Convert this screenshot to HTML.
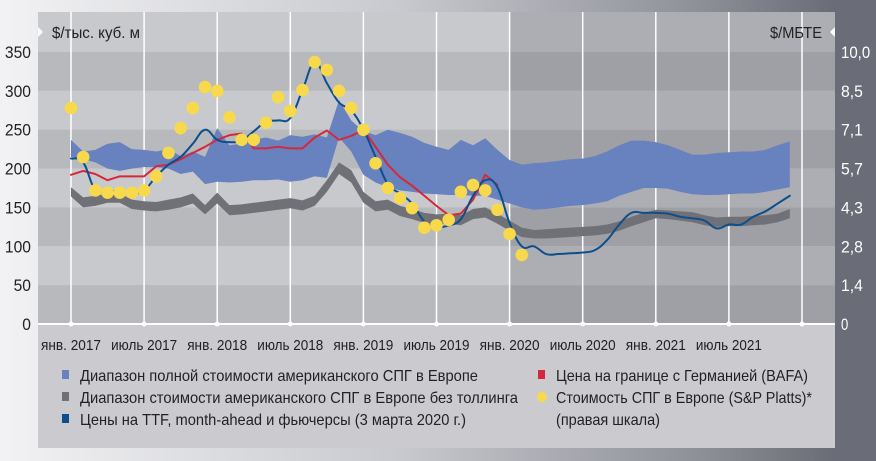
<!DOCTYPE html>
<html><head><meta charset="utf-8">
<style>
html,body{margin:0;padding:0;}
body{width:876px;height:461px;overflow:hidden;background:linear-gradient(90deg,#f2f2f4 0%,#c9cacf 45%,#8e9098 80%,#5f616b 100%);font-family:"Liberation Sans",sans-serif;position:relative;}
svg{position:absolute;left:0;top:0;}
text{font-family:"Liberation Sans",sans-serif;}
</style></head>
<body>
<svg id="chart" width="876" height="461"></svg>
<script>
const months = 60; // Jan 2017 .. Dec 2021
const xTickLabels = ["янв. 2017","июль 2017","янв. 2018","июль 2018","янв. 2019","июль 2019","янв. 2020","июль 2020","янв. 2021","июль 2021"];
const yTicksLeft = [0,50,100,150,200,250,300,350];
const yTickLabelsRight = ["0","1,4","2,8","4,3","5,7","7,1","8,5","10,0"];
const fullCostUpper = [237,222,224,232,234,225,224,222,225,216,222,215, 252,230,232,237,240,236,243,241,244,240,288,262, 248,243,250,246,241,233,228,224,237,230,239,224, 211,205,207,208,210,212,213,216,222,230,236,236, 234,230,224,218,218,220,221,222,222,224,230,235];
const fullCostLower = [215,212,208,200,197,200,202,202,200,193,196,180, 183,182,183,185,185,186,183,185,190,188,240,222, 192,182,176,172,170,168,167,166,166,165,165,160, 155,150,147,148,150,152,153,155,158,165,170,175, 175,174,170,167,166,166,167,168,168,170,173,176];
const noTollUpper = [176,163,165,168,168,160,158,157,160,163,168,153, 169,153,154,156,158,160,162,159,165,185,208,198, 170,158,160,152,148,143,141,142,140,148,150,142, 133,124,121,122,123,124,125,126,128,132,138,143, 147,146,145,144,140,137,138,138,139,140,142,148];
const noTollLower = [164,150,152,156,156,148,146,145,147,150,155,141, 155,140,141,143,145,147,149,146,152,170,193,182, 156,145,147,139,135,130,128,129,127,135,137,129, 120,112,110,110,111,112,113,114,116,120,126,131, 136,135,133,131,127,125,126,126,127,128,131,136];
const ttfPrice = [213,208,172,172,170,168,172,190,205,215,232,250, 237,234,236,248,260,262,265,301,337,310,285,275, 250,215,180,168,155,132,125,127,135,165,185,176, 130,100,100,90,90,91,92,95,108,128,143,143, 143,142,138,136,133,123,128,128,138,145,155,165];
const bafaPrice = [192,197,193,185,190,190,190,203,205,212,220,228, 237,243,245,226,226,228,226,226,240,249,237,242, 250,228,205,189,178,165,152,140,142,160,192,179];
const plattsMbtu = [7.94,6.14,4.91,4.83,4.83,4.83,4.91,5.43,6.29,7.2,7.94,8.71, 8.57,7.6,6.77,6.77,7.4,8.34,7.83,8.6,9.63,9.34,8.57,7.94, 7.14,5.91,5.0,4.63,4.26,3.54,3.63,3.83,4.86,5.11,4.91,4.2, 3.31,2.54];
const mbtuToLeft = 35;

const NS="http://www.w3.org/2000/svg";
const svg=document.getElementById('chart');
const X0=71, MW=73.1/6, Y0=324, YS=(324-52)/350;
function x(i){return X0+i*MW;}
function y(v){return Y0-v*YS;}
function yR(v){return y(v*mbtuToLeft);}
function mk(tag,attrs,parent){const e=document.createElementNS(NS,tag);for(const k in attrs)e.setAttribute(k,attrs[k]);(parent||svg).appendChild(e);return e;}

const strip=mk('rect',{x:835,y:0,width:41,height:461,fill:'#6a6c77'});


const panel=mk('rect',{x:38,y:12,width:797,height:436,fill:'#cbcbcf'});


for(let k=0;k<8;k++){
  const y1=k===0?12:y(350-(k-1)*50);
  const y2=y(350-k*50);
  const dark=k%2===1;
  const b1=mk('rect',{x:38,y:y1,width:509-38,height:y2-y1,fill:dark?'#b8b9bd':'#c8c9cd'});
  
  
  const b2=mk('rect',{x:509,y:y1,width:835-509,height:y2-y1,fill:dark?'#9fa0a5':'#adaeb3'});
  
  
}
for(let t=0;t<11;t++){
  const gx=x(t*6);
  const g=mk('line',{x1:gx,y1:12,x2:gx,y2:Y0,stroke:'#ffffff','stroke-width':1.5});
  
  
}
function band(up,lo,fill,name){
  let pts=[];
  up.forEach((v,i)=>pts.push(x(i)+','+y(v)));
  for(let i=lo.length-1;i>=0;i--)pts.push(x(i)+','+y(lo[i]));
  const p=mk('polygon',{points:pts.join(' '),fill:fill});
  
  
}
band(fullCostUpper,fullCostLower,'#6882bf','full-cost-range');
band(noTollUpper,noTollLower,'#707177','no-tolling-range');
function line(vals,color,w,name){
  const p=mk('polyline',{points:vals.map((v,i)=>x(i)+','+y(v)).join(' '),fill:'none',stroke:color,'stroke-width':w,'stroke-linejoin':'round','stroke-linecap':'round'});
  
  
}
function smooth(vals,color,w,name){
  const P=vals.map((v,i)=>[x(i),y(v)]);
  let d='M'+P[0][0]+','+P[0][1];
  for(let i=0;i<P.length-1;i++){
    const p0=P[Math.max(i-1,0)],p1=P[i],p2=P[i+1],p3=P[Math.min(i+2,P.length-1)];
    const t=0.4/2;
    d+=' C'+(p1[0]+(p2[0]-p0[0])*t/1)+','+(p1[1]+(p2[1]-p0[1])*t)+' '+(p2[0]-(p3[0]-p1[0])*t)+','+(p2[1]-(p3[1]-p1[1])*t)+' '+p2[0]+','+p2[1];
  }
  const p=mk('path',{d:d,fill:'none',stroke:color,'stroke-width':w,'stroke-linecap':'round'});
  
  
}
line(bafaPrice,'#d6283a',2,'bafa-price-line');
smooth(ttfPrice,'#0c4f8c',2,'ttf-price-line');
plattsMbtu.forEach((v,i)=>{
  const c=mk('circle',{cx:x(i),cy:yR(v),r:6.3,fill:'#f8d94b'});
  
  
});
const ax=mk('line',{x1:38,y1:Y0,x2:835,y2:Y0,stroke:'#ffffff','stroke-width':2});


for(let t=0;t<11;t++){
  const d=mk('circle',{cx:x(t*6),cy:Y0,r:2.5,fill:'#ffffff'});
  
  
}
function txt(s,attrs,len,parent){
  const t=mk('text',attrs,parent);
  t.textContent=s;
  if(len){t.setAttribute('textLength',len);t.setAttribute('lengthAdjust','spacingAndGlyphs');}
  return t;
}
yTicksLeft.forEach((v,k)=>{
  const s=String(v);
  const t=txt(s,{x:31,y:y(v)+6,'font-size':17,fill:'#222','text-anchor':'end'},s.length*8.7);
  
  
  const rs=yTickLabelsRight[k];
  const r=txt(rs,{x:841,y:y(v)+6,'font-size':17,fill:'#ffffff'},rs.length*7.3);
  
  
});
xTickLabels.forEach((s,t)=>{
  const tx=txt(s,{x:x(t*6),y:350,'font-size':15,fill:'#222','text-anchor':'middle'},s.startsWith('янв')?60:66);
  
  
});
const m1=mk('polygon',{points:'38,27 43,32 38,37',fill:'#fff'});


const u1=txt('$/тыс. куб. м',{x:52,y:38,'font-size':16,fill:'#222'},88);


const m2=mk('polygon',{points:'835,27 830,32 835,37',fill:'#fff'});


const u2=txt('$/МБТЕ',{x:822,y:38,'font-size':16,fill:'#222','text-anchor':'end'},52);


const legend=[
 [62,381,'#6882bf','Диапазон полной стоимости американского СПГ в Европе','legend-full-cost',398],
 [62,403,'#707177','Диапазон стоимости американского СПГ в Европе без толлинга','legend-no-tolling',438],
 [62,425,'#0c4f8c','Цены на TTF, month-ahead и фьючерсы (3 марта 2020 г.)','legend-ttf',386],
 [538,381,'#d6283a','Цена на границе с Германией (BAFA)','legend-bafa',252],
 [538,403,'#f8d94b','Стоимость СПГ в Европе (S&P Platts)*','legend-platts',256]];
legend.forEach((l,k)=>{
  const g=mk('g',{});
  
  
  if(k===4) mk('circle',{cx:l[0]+4,cy:l[1]-6,r:5,fill:l[2]},g);
  else mk('rect',{x:l[0],y:l[1]-11,width:7,height:9,fill:l[2]},g);
  txt(l[3],{x:l[0]+18,y:l[1],'font-size':16,fill:'#222'},l[5],g);
});
const lt=txt('(правая шкала)',{x:556,y:425,'font-size':16,fill:'#222'},104);


</script>
</body></html>
